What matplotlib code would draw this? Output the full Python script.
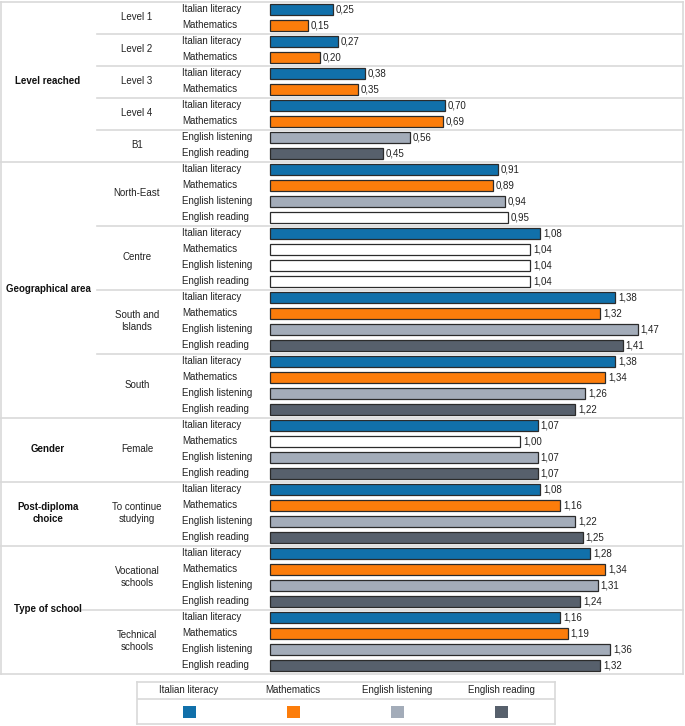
import matplotlib
matplotlib.use("Agg")
from matplotlib import pyplot as plt
from matplotlib.patches import Rectangle

plt.rcParams['font.family'] = ['Liberation Sans', 'DejaVu Sans']

subjects = ["Italian literacy", "Mathematics", "English listening", "English reading"]
colors = ['#1170aa', '#fc7d0b', '#a3acb9', '#57606c']

# (group, subgroup, subject indexes, values, not significant flags)
groups = ["Level reached", "Geographical area", "Gender", "Post-diploma\nchoice", "Type of school"]

level_sub = ["Level 1", "Level 2", "Level 3", "Level 4", "B1"]
level_subj = [[0, 1], [0, 1], [0, 1], [0, 1], [2, 3]]
level_vals = [[0.25, 0.15], [0.27, 0.20], [0.38, 0.35], [0.70, 0.69], [0.56, 0.45]]
level_ns = [[0, 0], [0, 0], [0, 0], [0, 0], [0, 0]]

geo_sub = ["North-East", "Centre", "South and\nIslands", "South"]
geo_vals = [[0.91, 0.89, 0.94, 0.95], [1.08, 1.04, 1.04, 1.04],
            [1.38, 1.32, 1.47, 1.41], [1.38, 1.34, 1.26, 1.22]]
geo_ns = [[0, 0, 0, 1], [0, 1, 1, 1], [0, 0, 0, 0], [0, 0, 0, 0]]

gender_sub = ["Female"]
gender_vals = [[1.07, 1.00, 1.07, 1.07]]
gender_ns = [[0, 1, 0, 0]]

post_sub = ["To continue\nstudying"]
post_vals = [[1.08, 1.16, 1.22, 1.25]]
post_ns = [[0, 0, 0, 0]]

school_sub = ["Vocational\nschools", "Technical\nschools"]
school_vals = [[1.28, 1.34, 1.31, 1.24], [1.16, 1.19, 1.36, 1.32]]
school_ns = [[0, 0, 0, 0], [0, 0, 0, 0]]

all4 = [0, 1, 2, 3]
table = [
    (level_sub, level_subj, level_vals, level_ns),
    (geo_sub, [all4] * 4, geo_vals, geo_ns),
    (gender_sub, [all4], gender_vals, gender_ns),
    (post_sub, [all4], post_vals, post_ns),
    (school_sub, [all4] * 2, school_vals, school_ns),
]
sub_line_start = [97, 97, 97, 97, 73]

W, H = 685, 726
fig = plt.figure(figsize=(W / 100, H / 100), dpi=100)
ax = fig.add_axes([0, 0, 1, 1])
# bars start at pixel 270, 250 px per unit; rows 16 px, first row centre at 9.5 px
ax.set_xlim(-270 / 250, (W - 270) / 250)
ax.set_ylim((H - 9.5) / 16, -9.5 / 16)
ax.axis('off')
yt = ax.get_yaxis_transform()
grid_col = '#d9d9d9'
fs = 7

row = 0
for g, (subs, subj, vals, ns) in enumerate(table):
    g_start = row
    for s, name in enumerate(subs):
        s_start = row
        for k, si in enumerate(subj[s]):
            v = vals[s][k]
            fc = 'white' if ns[s][k] else colors[si]
            ax.barh(row, v, height=0.7, left=0, color=fc, edgecolor='#2b2b2b', linewidth=0.9)
            ax.text(v + 0.012, row, "{:.2f}".format(v).replace('.', ','), ha='left', va='center',
                    fontsize=fs, color='#222222')
            ax.text(182 / W, row, subjects[si], transform=yt, ha='left', va='center',
                    fontsize=fs, color='#222222')
            row += 1
        ax.text(137 / W, (s_start + row - 1) / 2, name, transform=yt, ha='center', va='center',
                fontsize=fs, color='#222222', linespacing=1.25)
        if s < len(subs) - 1:
            ax.plot([sub_line_start[g] / W, 683 / W], [row - 0.5, row - 0.5], transform=yt,
                    color=grid_col, lw=1.2, zorder=0)
    ax.text(48 / W, (g_start + row - 1) / 2, groups[g], transform=yt, ha='center', va='center',
            fontsize=fs, fontweight='bold', color='#111111', linespacing=1.25)
    ax.plot([0.5 / W, 683 / W], [row - 0.5, row - 0.5], transform=yt, color=grid_col, lw=1.2, zorder=0)

ax.plot([0.5 / W, 683 / W], [-0.5, -0.5], transform=yt, color=grid_col, lw=1.2)
ax.plot([0.7 / W, 0.7 / W], [-0.5, row - 0.5], transform=yt, color=grid_col, lw=1.2)
ax.plot([683 / W, 683 / W], [-0.5, row - 0.5], transform=yt, color=grid_col, lw=1.2)

# legend box
lx0, lx1, ly0, ly1 = 137, 555, 682, 724
lax = fig.add_axes([lx0 / W, 1 - ly1 / H, (lx1 - lx0) / W, (ly1 - ly0) / H])
lax.set_xlim(0, lx1 - lx0)
lax.set_ylim(ly1 - ly0, 0)
lax.set_xticks([])
lax.set_yticks([])
for sp in lax.spines.values():
    sp.set_color(grid_col)
    sp.set_linewidth(1.2)
lax.axhline(699 - ly0, color=grid_col, lw=1.2)
for i, name in enumerate(subjects):
    cx = 189 + 104 * i - lx0
    lax.text(cx, 690 - ly0, name, ha='center', va='center', fontsize=fs, color='#222222')
    lax.add_patch(Rectangle((cx - 6.5, 706 - ly0), 13, 12, facecolor=colors[i], edgecolor='none'))

fig.savefig("out.png", dpi=100)
